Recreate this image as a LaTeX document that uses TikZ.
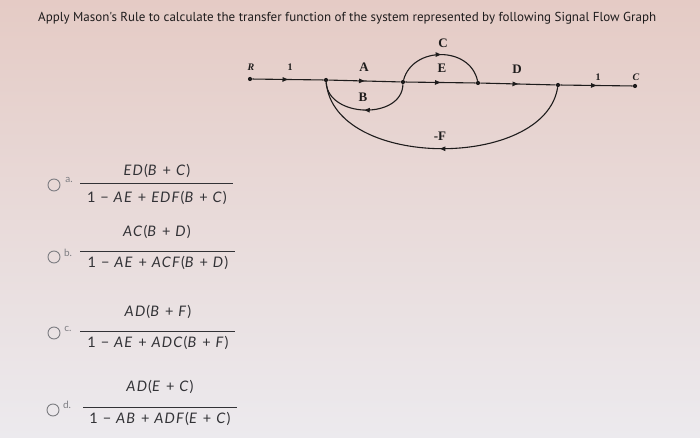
\documentclass[tikz,border=0pt]{standalone}
\usepackage{fontspec}
\setmainfont{Liberation Serif}
\newfontfamily\titlefont{PT Sans}
\newfontfamily\ansfont[LetterSpace=8]{Lato}
\usetikzlibrary{arrows.meta,decorations.markings}

\definecolor{bgtop}{RGB}{229,203,197}
\definecolor{bgbot}{RGB}{236,234,238}
\definecolor{ink}{RGB}{30,28,28}
\definecolor{anstext}{RGB}{50,50,54}
\definecolor{radiogray}{RGB}{125,125,130}

\tikzset{
	dot/.style={circle, fill=ink, inner sep=0pt, minimum size=4.2pt},
	branch/.style={draw=ink, line width=1.1pt},
	midarrow/.style={postaction={decorate}, decoration={markings,
		mark=at position 0.5 with {\arrow{Triangle[length=5.5pt,width=4.5pt]}}}},
	gain/.style={font=\fontsize{13}{15}\selectfont\bfseries, text=ink, inner sep=1pt},
	smallgain/.style={font=\fontsize{10}{12}\selectfont\bfseries, text=ink, inner sep=1pt},
	radiobtn/.style={circle, draw=radiogray, line width=0.9pt, minimum size=12pt, inner sep=0pt},
	optlabel/.style={font=\fontspec{Lato}\fontsize{10}{12}\selectfont, text=radiogray, inner sep=0pt},
	answer/.style={font=\ansfont\fontsize{14.5}{16}\selectfont, text=anstext, inner sep=0pt},
	fracbar/.style={draw=anstext, line width=0.9pt}
}

\begin{document}
\begin{tikzpicture}[x=1pt, y=-1pt]
	\shade[top color=bgtop, bottom color=bgbot] (0,0) rectangle (700,438);
	\useasboundingbox (0,0) rectangle (700,438);

	\node[anchor=west, font=\titlefont\fontsize{13}{15}\selectfont, text=ink, inner sep=0pt] (title) at (38,18)
		{Apply Mason's Rule to calculate the transfer function of the system represented by following Signal Flow Graph};

	% signal flow graph
	\node[dot] (R) at (250,79) {};
	\node[dot] (1) at (326,80) {};
	\node[dot] (2) at (403,82) {};
	\node[dot] (3) at (478,83) {};
	\node[dot] (4) at (558,85) {};
	\node[dot] (Cout) at (635,86) {};

	\draw[branch, midarrow] (R) -- (1);
	\draw[branch, midarrow] (1) -- (2);
	\draw[branch, midarrow] (2) -- (3);
	\draw[branch, midarrow] (3) -- (4);
	\draw[branch, midarrow] (4) -- (Cout);
	\draw[branch, midarrow] (2) .. controls (413,46) and (470,46) .. (3);
	\draw[branch, midarrow] (2) .. controls (402,120) and (328,118) .. (1);
	\draw[branch, midarrow] (4) .. controls (545,170) and (334,170) .. (1);

	\begin{scope}[every node/.append style={gain}]
		\node[smallgain, font=\fontsize{10}{12}\selectfont\bfseries\itshape] (lR) at (251,67) {R};
		\node[smallgain] (l1) at (290,67) {1};
		\node (lA) at (364,67) {A};
		\node (lE) at (442,68) {E};
		\node (lC) at (443,43) {C};
		\node (lD) at (517,69) {D};
		\node[smallgain] (l2) at (598,77) {1};
		\node[smallgain, font=\fontsize{10}{12}\selectfont\bfseries\itshape] (lCout) at (636,77) {C};
		\node (lB) at (363,97) {B};
		\node (lF) at (440,136) {-F};
	\end{scope}

	% answer options
	\node[radiobtn] (ra) at (54,185) {};
	\node[optlabel] (ta) at (69,180) {a.};
	\node[answer] (numa) at (157,171) {\textit{ED}(\textit{B} + \textit{C})};
	\node[answer] (dena) at (157,198) {1 − \textit{AE} + \textit{EDF}(\textit{B} + \textit{C})};
	\draw[fracbar] (80,183) -- (233,183);

	\node[radiobtn] (rb) at (54,257) {};
	\node[optlabel] (tb) at (68,253) {b.};
	\node[answer] (numb) at (157,232) {\textit{AC}(\textit{B} + \textit{D})};
	\node[answer] (denb) at (158,263) {1 − \textit{AE} + \textit{ACF}(\textit{B} + \textit{D})};
	\draw[fracbar] (80,251) -- (235,251);

	\node[radiobtn] (rc) at (54,333) {};
	\node[optlabel] (tc) at (68,329) {c.};
	\node[answer] (numc) at (158,312) {\textit{AD}(\textit{B} + \textit{F})};
	\node[answer] (denc) at (158,343) {1 − \textit{AE} + \textit{ADC}(\textit{B} + \textit{F})};
	\draw[fracbar] (80,331) -- (235,331);

	\node[radiobtn] (rd) at (53,410) {};
	\node[optlabel] (td) at (67,405) {d.};
	\node[answer] (numd) at (160,387) {\textit{AD}(\textit{E} + \textit{C})};
	\node[answer] (dend) at (160,419) {1 − \textit{AB} + \textit{ADF}(\textit{E} + \textit{C})};
	\draw[fracbar] (83,407) -- (237,407);
\end{tikzpicture}
\end{document}
